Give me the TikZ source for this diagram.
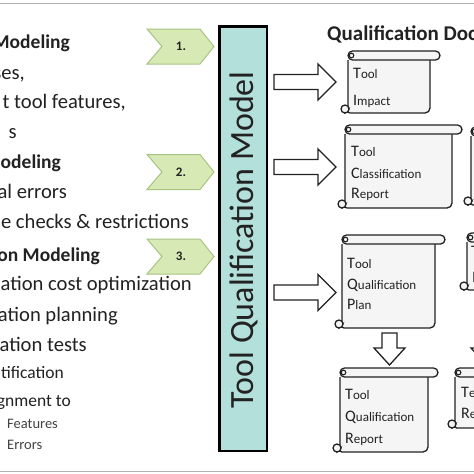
\documentclass[tikz,border=0pt]{standalone}
\usepackage{fontspec}
\setmainfont{Carlito}
\definecolor{ink}{HTML}{222222}
\definecolor{chevfill}{HTML}{D7EAB5}
\definecolor{chevline}{HTML}{A8C381}
\definecolor{barfill}{HTML}{B4E0DC}
\definecolor{paper}{HTML}{F5F5F5}
\definecolor{rulegray}{HTML}{B0B0B0}
\tikzset{
  lefttxt/.style={anchor=base east, inner sep=0, text=ink, font=\fontsize{20.6}{24}\selectfont},
  lefthead/.style={anchor=base east, inner sep=0, text=ink, font=\bfseries\fontsize{19.5}{24}\selectfont},
  leftsmall/.style={anchor=base east, inner sep=0, text=ink, font=\fontsize{17.5}{20}\selectfont},
  leftsub/.style={anchor=base west, inner sep=0, text=ink!85, font=\fontsize{14.5}{17}\selectfont},
  chev/.style={fill=chevfill, draw=chevline, line width=1pt},
  chevtxt/.style={inner sep=0, font=\bfseries\fontsize{13}{15}\selectfont, text=ink},
  blockarrow/.style={fill=white, draw=ink, line width=1.3pt, line join=miter},
  scrollline/.style={draw=ink, line width=1.3pt, fill=paper},
  doctxt/.style={anchor=base west, inner sep=0, text=ink},
}
\newcommand{\docword}[2]{{\fontsize{16}{18}\selectfont #1}{\fontsize{13}{15}\selectfont #2}}
% chevron: name, centre y, label
\newcommand{\chevshape}[3]{%
  \draw[chev] (147,#2-17.5) -- (200,#2-17.5) -- (214,#2) -- (200,#2+17.5) -- (147,#2+17.5) -- (162,#2) -- cycle;
  \node[chevtxt] (#1) at (181,#2) {#3};}
% horizontal block arrow: centre y
\newcommand{\harrow}[1]{%
  \draw[blockarrow] (274,#1-7.5) -- (318,#1-7.5) -- (318,#1-18) -- (336,#1) -- (318,#1+18) -- (318,#1+7.5) -- (274,#1+7.5) -- cycle;}
% scroll: name, left x, roll top y, body right x, bottom y
\newcommand{\docscroll}[5]{%
  \draw[scrollline, rounded corners=5pt] (#2,#3+9) -- (#2,#5-3) -- (#2-3,#5) -- (#4,#5) -- (#4,#3+9);
  \draw[scrollline] (#2-3,#5-4) circle (4);
  \draw[scrollline, rounded corners=4.5pt] (#2,#3) rectangle (#4+10,#3+9);
  \draw[draw=ink, line width=1.1pt] (#2+3.5,#3+4.5) circle (2.3);
  \path (#2,#3) coordinate (#1);}
\begin{document}
\begin{tikzpicture}[x=1pt,y=-1pt]
\useasboundingbox (0,0) rectangle (474,474);
\fill[white] (0,0) rectangle (474,474);
\clip (0,0) rectangle (474,474);
\draw[rulegray, line width=1pt] (0,3) -- (474,3);
\draw[rulegray, line width=1pt] (0,471) -- (474,471);

% left text
\node[lefthead] (l1) at (70,48) {Modeling};
\node[lefttxt] (l2) at (25,79) {ses,};
\node[lefttxt] (l3) at (126,108) {t tool features,};
\node[lefttxt] (l4) at (17,138) {s};
\node[lefthead] (l5) at (61,168) {odeling};
\node[lefttxt] (l6) at (67,198) {al errors};
\node[lefttxt] (l7) at (189,228) {le checks \& restrictions};
\node[lefthead] (l8) at (100,261) {on Modeling};
\node[lefttxt] (l9) at (192,290) {ation cost optimization};
\node[lefttxt] (l10) at (118,321) {ation planning};
\node[lefttxt] (l11) at (87,351) {ation tests};
\node[leftsmall] (l12) at (64,378) {tification};
\node[leftsmall] (l13) at (71,406) {gnment to};
\node[leftsub] (l14) at (7,428) {Features};
\node[leftsub] (l15) at (7,449) {Errors};

% chevrons
\chevshape{c1}{46.5}{1.}
\chevshape{c2}{172}{2.}
\chevshape{c3}{256.5}{3.}

% bar
\node[draw=black, line width=2.5pt, fill=barfill, minimum width=47.5, minimum height=424.5, inner sep=0] (bar) at (243,238.5) {};
\node[rotate=90, inner sep=0, font=\fontsize{34}{36}\selectfont, text=ink] (bartxt) at (244,240) {Tool Qualification Model};

% title
\node[anchor=base west, inner sep=0, font=\bfseries\fontsize{21}{24}\selectfont, text=ink] (title) at (327,40) {Qualification Doc};

% block arrows
\harrow{82}
\harrow{167}
\harrow{292.5}
\draw[blockarrow] (382,333) -- (397,333) -- (397,348) -- (405,348) -- (389.5,365) -- (374,348) -- (382,348) -- cycle;
\draw[blockarrow] (479,333) -- (494,333) -- (494,348) -- (502,348) -- (486.5,365) -- (471,348) -- (479,348) -- cycle;

% scrolls
\docscroll{s1}{348}{51}{430}{113}
\node[doctxt] (s1a) at (353,78) {\docword{T}{ool}};
\node[doctxt] (s1b) at (353,105) {\docword{I}{mpact}};

\docscroll{s2}{345}{125}{452}{208}
\node[doctxt] (s2a) at (351,156) {\docword{T}{ool}};
\node[doctxt] (s2b) at (351,178) {\docword{C}{lassification}};
\node[doctxt] (s2c) at (351,198) {\docword{R}{eport}};

\docscroll{s3}{471}{127}{560}{205}

\docscroll{s4}{342}{235}{435}{328}
\node[doctxt] (s4a) at (347,268) {\docword{T}{ool}};
\node[doctxt] (s4b) at (347,289) {\docword{Q}{ualification}};
\node[doctxt] (s4c) at (347,309) {\docword{P}{lan}};

\docscroll{s5}{467}{233}{560}{290}
\node[doctxt] (s5a) at (471,256) {\docword{T}{}};
\node[doctxt] (s5b) at (472,282) {\docword{I}{}};

\docscroll{s7}{340}{368}{428}{452}
\node[doctxt] (s7a) at (345,399) {\docword{T}{ool}};
\node[doctxt] (s7b) at (345,421) {\docword{Q}{ualification}};
\node[doctxt] (s7c) at (345,443) {\docword{R}{eport}};

\docscroll{s8}{455}{368}{560}{428}
\node[doctxt] (s8a) at (461,397) {\docword{T}{e}};
\node[doctxt] (s8b) at (461,418) {\docword{R}{e}};
\end{tikzpicture}
\end{document}
